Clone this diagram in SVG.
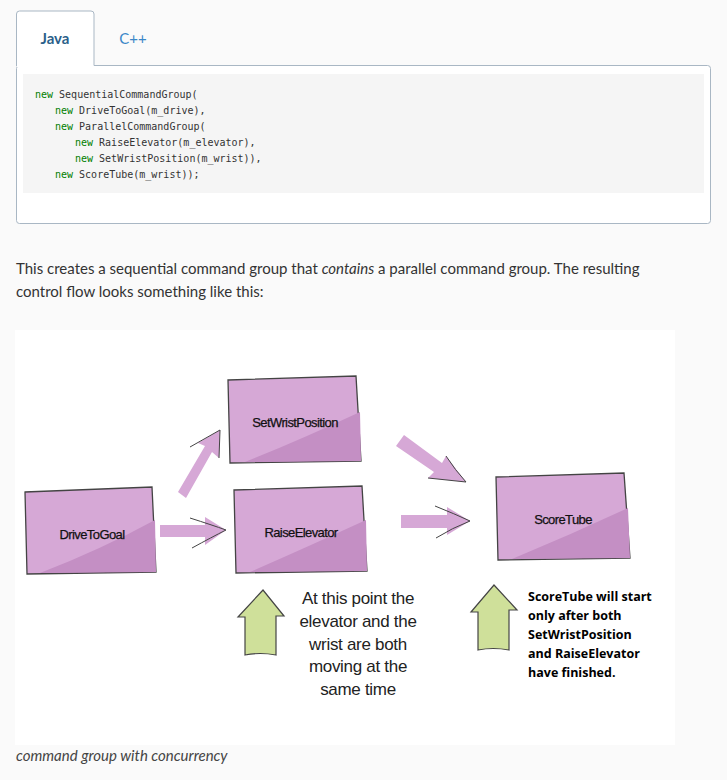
<svg xmlns="http://www.w3.org/2000/svg" width="727" height="780" viewBox="0 0 727 780">
<defs>
<style>
.code{font-family:"DejaVu Sans Mono",monospace;font-size:10px;fill:#333}
.kw{fill:#008000}
.box{fill:#d6a8d6;stroke:#444;stroke-width:1.3}
.shade{fill:#c48fc4}
.lbl{font-family:"Liberation Sans",Arial,sans-serif;font-size:13px;fill:#111;text-anchor:middle;letter-spacing:-0.6px;stroke:#111;stroke-width:0.25}
.arr{fill:#d6a8d6;stroke:none}
.tip{fill:none;stroke:#444;stroke-width:1}
.grn{fill:#cfe09a;stroke:#444;stroke-width:1.2}
.note{font-family:"Liberation Sans",Arial,sans-serif;font-size:17px;fill:#222;text-anchor:middle;letter-spacing:-0.3px}
.note2{font-family:"Open Sans",sans-serif;font-weight:bold;font-size:12.5px;fill:#000}
.para{font-family:Lato,sans-serif;font-size:15px;fill:#333}
</style>
</defs>
<rect width="727" height="780" fill="#fafafa"/>
<g id="tabs">
<rect x="16.5" y="65.5" width="694" height="158" rx="3" fill="#fff" stroke="#a9b7c4"/>
<path d="M16.5 66 V14 a3 3 0 0 1 3-3 H91 a3 3 0 0 1 3 3 V66" fill="#fff" stroke="#a9b7c4"/>
<line x1="17" y1="66" x2="93.5" y2="66" stroke="#fff" stroke-width="2"/>
<text x="55" y="44" text-anchor="middle" font-family="Lato,sans-serif" font-size="15" font-weight="bold" fill="#2b5f8a">Java</text>
<text x="133" y="44" text-anchor="middle" font-family="Lato,sans-serif" font-size="15" fill="#3a87c8">C++</text>
<rect x="23" y="74" width="681" height="119" fill="#f5f5f5"/>
<text class="code" x="35" y="98"><tspan class="kw">new</tspan> SequentialCommandGroup(</text>
<text class="code" x="55" y="114"><tspan class="kw">new</tspan> DriveToGoal(m_drive),</text>
<text class="code" x="55" y="130"><tspan class="kw">new</tspan> ParallelCommandGroup(</text>
<text class="code" x="75" y="146"><tspan class="kw">new</tspan> RaiseElevator(m_elevator),</text>
<text class="code" x="75" y="162"><tspan class="kw">new</tspan> SetWristPosition(m_wrist)),</text>
<text class="code" x="55" y="178"><tspan class="kw">new</tspan> ScoreTube(m_wrist));</text>
</g>
<text class="para" x="16" y="274">This creates a sequential command group that <tspan font-style="italic">contains</tspan> a parallel command group. The resulting</text>
<text class="para" x="16" y="297">control flow looks something like this:</text>
<rect x="15" y="330" width="660" height="415" fill="#fff"/>
<g id="connectors">
<path class="arr" d="M160 525 H205 V517 L226 530 L205 545 V537 H160Z"/>
<path class="tip" d="M190 518 Q212 525 226 530 Q212 537 192 548"/>
<path class="arr" d="M178 492 L205 446 L198 443 L220 430 L219 458 L212 452 L186 498Z"/>
<path class="tip" d="M190 447 L220 430 L219 458"/>
<path class="arr" d="M396 446 L434 472 L428 478 L466 482 L446 456 L442 463 L404 435Z"/>
<path class="tip" d="M446 456 Q455 470 466 482 L428 478"/>
<path class="arr" d="M401 515 H447 V507 L470 521 L447 535 V528 H401Z"/>
<path class="tip" d="M435 506 Q455 514 470 521 Q452 528 436 538"/>
</g>
<g id="DriveToGoal">
<path class="box" d="M25 492 L152 487 L156 572 L27 574Z"/>
<path class="shade" d="M40 573 Q100 550 155 520 L156 572Z"/>
<text class="lbl" x="92" y="539">DriveToGoal</text>
</g>
<g id="SetWristPosition">
<path class="box" d="M228 380 L356 376 L361 461 L230 463Z"/>
<path class="shade" d="M245 462 Q300 440 360 412 L361 461Z"/>
<text class="lbl" x="295" y="427">SetWristPosition</text>
</g>
<g id="RaiseElevator">
<path class="box" d="M234 490 L362 486 L367 571 L236 573Z"/>
<path class="shade" d="M250 572 Q305 548 366 520 L367 571Z"/>
<text class="lbl" x="301" y="537">RaiseElevator</text>
</g>
<g id="ScoreTube">
<path class="box" d="M496 477 L624 473 L630 558 L498 560Z"/>
<path class="shade" d="M512 559 Q570 535 628 508 L630 558Z"/>
<text class="lbl" x="563" y="524">ScoreTube</text>
</g>
<g id="note1">
<path class="grn" d="M245 655 V617 H238 L263 590 L284 616 H276 V655 Q260 652 245 655Z"/>
<text class="note" x="358" y="604">At this point the</text>
<text class="note" x="358" y="627">elevator and the</text>
<text class="note" x="358" y="650">wrist are both</text>
<text class="note" x="358" y="672">moving at the</text>
<text class="note" x="358" y="695">same time</text>
</g>
<g id="note2">
<path class="grn" d="M478 650 V612 H471 L494 585 L517 610 H509 V650 Q493 647 478 650Z"/>
<text class="note2" x="528" y="601">ScoreTube will start</text>
<text class="note2" x="528" y="620">only after both</text>
<text class="note2" x="528" y="639">SetWristPosition</text>
<text class="note2" x="528" y="658">and RaiseElevator</text>
<text class="note2" x="528" y="677">have finished.</text>
</g>
<text x="16" y="761" font-family="Lato,sans-serif" font-style="italic" font-size="15" fill="#444">command group with concurrency</text>
</svg>
